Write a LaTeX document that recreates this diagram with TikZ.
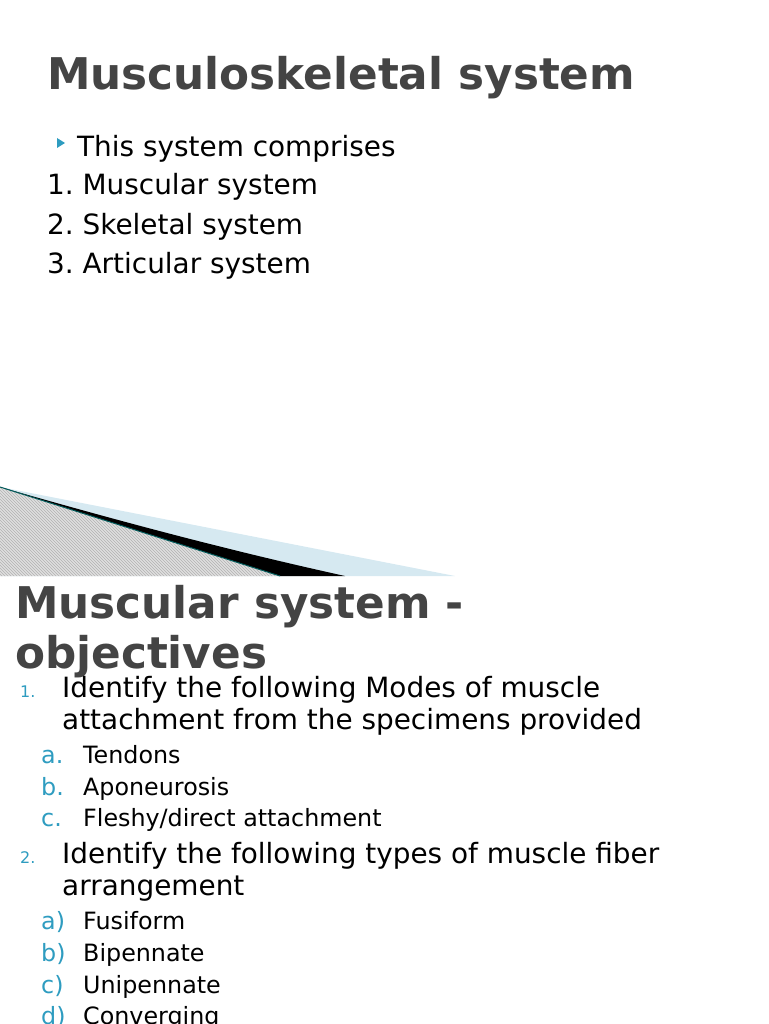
\documentclass[tikz,border=0pt]{standalone}
\usepackage{fontspec}
\setmainfont{DejaVu Sans}
\usetikzlibrary{patterns}
\definecolor{tgray}{HTML}{444444}
\definecolor{tblue}{HTML}{2E9CC0}
\definecolor{lblue}{HTML}{D6E9F1}
\begin{document}
\frenchspacing
\begin{tikzpicture}[x=1pt,y=-1pt,
  ttl/.style={anchor=base west,inner sep=0,text=tgray,font=\fontsize{43.7}{50}\selectfont\bfseries},
  body/.style={anchor=base west,inner sep=0,font=\fontsize{27.9}{32}\selectfont},
  sub/.style={anchor=base west,inner sep=0,font=\fontsize{23.8}{28}\selectfont},
  num/.style={anchor=base west,inner sep=0,text=tblue,font=\fontsize{16}{20}\selectfont},
  let/.style={anchor=base west,inner sep=0,text=tblue,font=\fontsize{23.8}{28}\selectfont}]
\useasboundingbox (0,0) rectangle (768,1024);
% decorative wedge
\fill[lblue] (0,487) -- (455,576) -- (0,576) -- cycle;
\fill[black] (0,487) .. controls (150,530) and (250,555) .. (345,576) -- (280,576) -- cycle;
\fill[gray!25] (0,487) -- (280,576) -- (0,576) -- cycle;
\fill[pattern=north west lines,pattern color=gray!60] (0,487) -- (280,576) -- (0,576) -- cycle;
\draw[teal!70!black,line width=1pt] (0,487) -- (280,576);
% slide 1
\node[ttl] (t1) at (47,90) {Musculoskeletal system};
\fill[tblue] (57,138) -- (65,143) -- (57,148) -- cycle;
\node[body] (b0) at (77,157) {This system comprises};
\node[body] (b1) at (47,195) {1. Muscular system};
\node[body] (b2) at (47,234) {2. Skeletal system};
\node[body] (b3) at (47,273) {3. Articular system};
% slide 2
\node[ttl] (t2) at (15,618) {Muscular system -};
\node[ttl] (t3) at (15,668) {objectives};
\node[num] (n1) at (20,697) {1.};
\node[body] (i1) at (62,697) {Identify the following Modes of muscle};
\node[body] (i1b) at (62,729) {attachment from the specimens provided};
\node[let] (la) at (41,763) {a.}; \node[sub] (sa) at (83,763) {Tendons};
\node[let] (lb) at (41,795) {b.}; \node[sub] (sb) at (83,795) {Aponeurosis};
\node[let] (lc) at (41,826) {c.}; \node[sub] (sc) at (83,826) {Fleshy/direct attachment};
\node[num] (n2) at (20,863) {2.};
\node[body] (i2) at (62,863) {Identify the following types of muscle fiber};
\node[body] (i2b) at (62,895) {arrangement};
\node[let] (ma) at (41,929) {a)}; \node[sub] (ta) at (83,929) {Fusiform};
\node[let] (mb) at (41,961) {b)}; \node[sub] (tb) at (83,961) {Bipennate};
\node[let] (mc) at (41,993) {c)}; \node[sub] (tc) at (83,993) {Unipennate};
\node[let] (md) at (41,1024) {d)}; \node[sub] (td) at (83,1024) {Converging};
\end{tikzpicture}
\end{document}
